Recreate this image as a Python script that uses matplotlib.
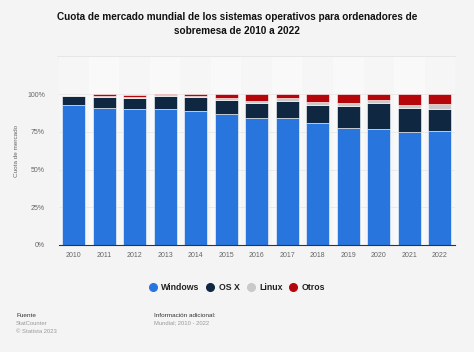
import matplotlib.pyplot as plt
import numpy as np

# Cuota de mercado de SO de escritorio (StatCounter)
years = ['2010', '2011', '2012', '2013', '2014', '2015', '2016',
         '2017', '2018', '2019', '2020', '2021', '2022']
windows = [93.0, 91.2, 90.0, 90.5, 88.8, 87.0, 84.0, 84.2, 80.7, 77.8, 77.0, 75.0, 75.5]
osx = [5.8, 6.7, 7.3, 8.1, 9.1, 9.3, 9.9, 11.6, 12.2, 14.2, 17.2, 15.9, 15.0]
linux = [0.4, 0.9, 0.8, 0.8, 0.9, 1.0, 1.5, 2.0, 2.0, 2.0, 2.2, 2.2, 3.1]
otros = [0.0, 1.2, 1.6, 0.6, 1.1, 2.7, 4.5, 2.2, 5.1, 6.0, 3.6, 6.9, 6.4]

series = [('Windows', windows, '#2876dd'),
          ('OS X', osx, '#0f2741'),
          ('Linux', linux, '#c9c9c9'),
          ('Otros', otros, '#b5060b')]

plt.rcParams['font.family'] = ['Liberation Sans', 'DejaVu Sans']

fig = plt.figure(figsize=(4.74, 3.52), dpi=100)
fig.patch.set_facecolor('#f4f4f4')
ax = fig.add_axes([0.1245, 0.304, 0.8355, 0.534])
ax.set_facecolor('#f4f4f4')

x = np.arange(len(years))
# bandas de fondo alternas
for i in x:
    ax.axvspan(i - 0.5, i + 0.5, color='#f9f9f9' if i % 2 else '#f6f6f6', lw=0, zorder=0)

bottom = np.zeros(len(years))
for name, vals, col in series:
    ax.bar(x, vals, 0.75, bottom=bottom, color=col, edgecolor='white',
           linewidth=0.4, label=name, zorder=3)
    bottom += np.array(vals)

ax.set_xlim(-0.48, 12.5)
ax.set_ylim(0, 124.7)
ax.set_yticks([0, 25, 50, 75, 100])
ax.set_yticklabels(['0%', '25%', '50%', '75%', '100%'])
ax.set_xticks(x)
ax.set_xticklabels(years)
ax.tick_params(axis='both', length=0, labelsize=5, colors='#666666')
ax.tick_params(axis='x', pad=5)
ax.tick_params(axis='y', pad=10)
ax.yaxis.grid(True, color='#e6e6e6', linewidth=0.5, zorder=1)
for s in ['top', 'right', 'left']:
    ax.spines[s].set_visible(False)
ax.spines['bottom'].set_color('#333333')
ax.spines['bottom'].set_linewidth(0.8)
ax.spines['bottom'].set_zorder(4)
ax.set_ylabel('Cuota de mercado', fontsize=4.6, color='#666666', labelpad=6)

# linea superior
fig.add_artist(plt.Line2D([0.12, 0.96], [0.84, 0.84], color='#e4e4e4', lw=0.6))

fig.text(0.5, 0.952, 'Cuota de mercado mundial de los sistemas operativos para ordenadores de',
         ha='center', va='center', fontsize=7.2, fontweight='bold', color='#111111')
fig.text(0.5, 0.911, 'sobremesa de 2010 a 2022',
         ha='center', va='center', fontsize=7.2, fontweight='bold', color='#111111')

leg = fig.legend(handles=[plt.Line2D([], [], marker='o', ls='', color=c, markersize=5.5)
                          for _, _, c in series],
                 labels=[n for n, _, _ in series], loc='center',
                 bbox_to_anchor=(0.5, 0.183), ncol=4, frameon=False,
                 handletextpad=0.5, columnspacing=0.8, handlelength=0.9,
                 prop={'size': 6.3, 'weight': 'bold'})
for t in leg.get_texts():
    t.set_color('#222222')

fig.text(0.034, 0.104, 'Fuente', fontsize=4.6, color='#333333', va='center')
fig.text(0.034, 0.082, 'StatCounter', fontsize=4.2, color='#999999', va='center')
fig.text(0.034, 0.059, '© Statista 2023', fontsize=4.2, color='#999999', va='center')
fig.text(0.325, 0.104, 'Información adicional:', fontsize=4.6, color='#333333', va='center')
fig.text(0.325, 0.082, 'Mundial; 2010 - 2022', fontsize=4.2, color='#999999', va='center')

fig.savefig('out.png', dpi=100, facecolor=fig.get_facecolor())
